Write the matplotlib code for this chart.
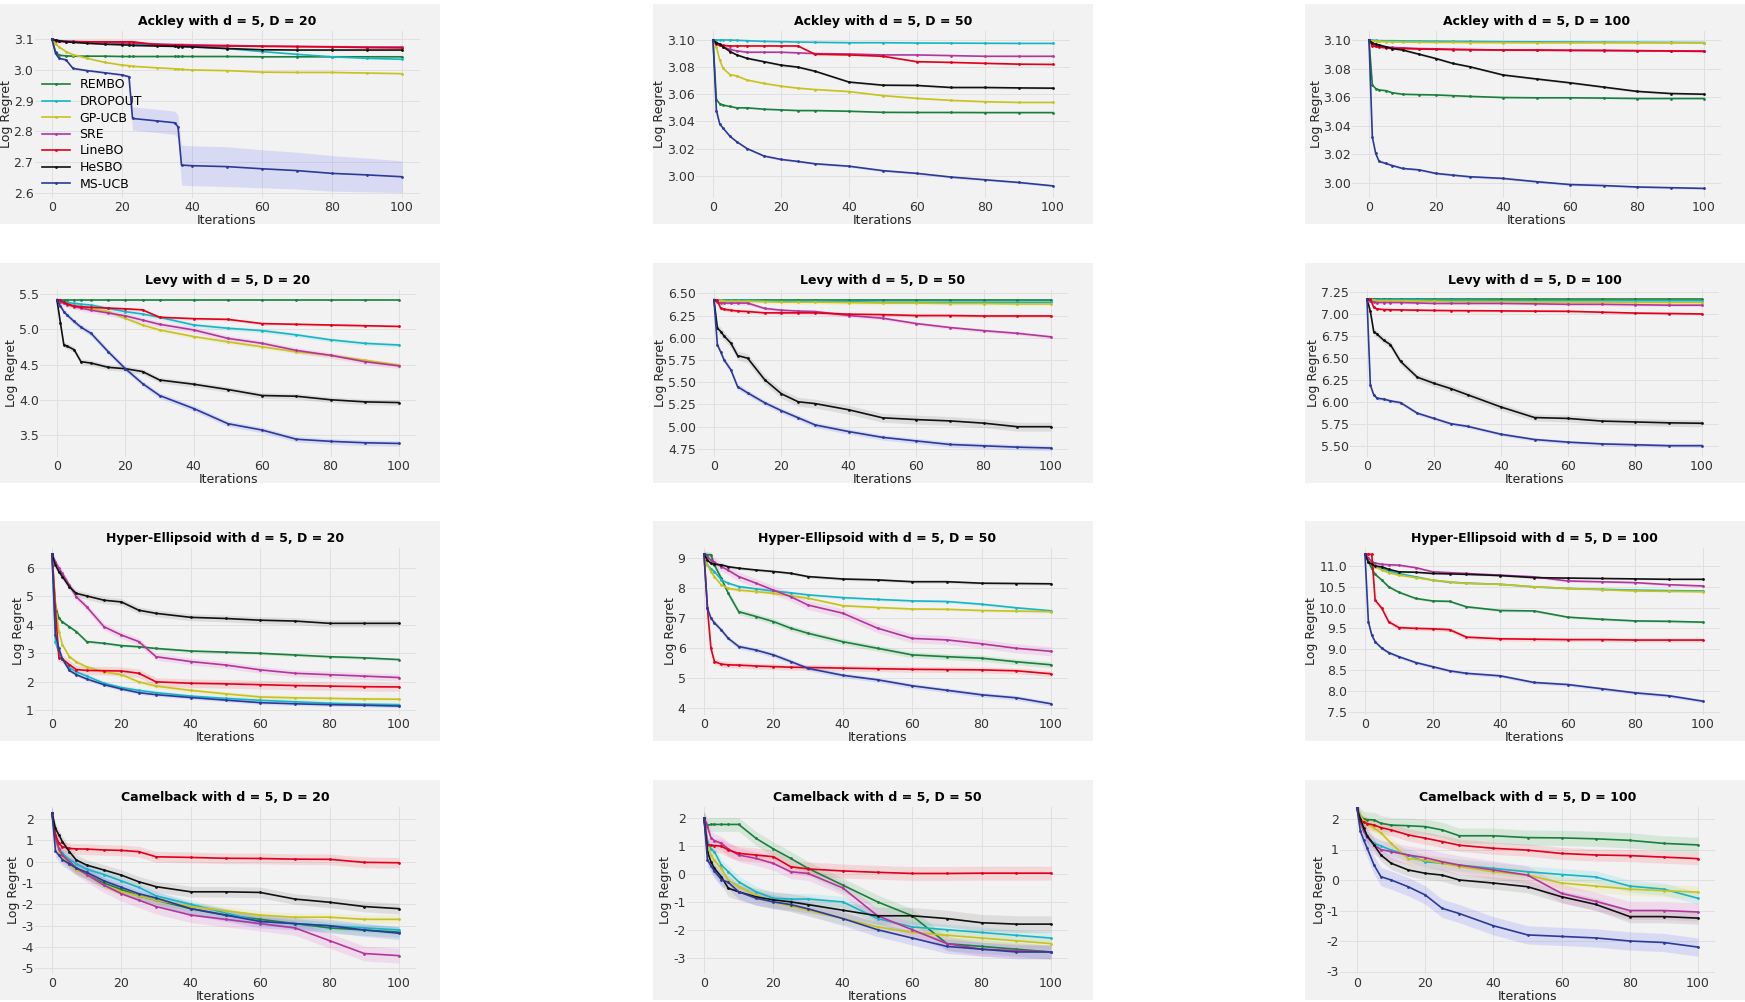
import matplotlib
matplotlib.use("Agg")
import matplotlib.pyplot as plt
import numpy as np
from matplotlib.patches import Rectangle

methods = ["REMBO", "DROPOUT", "GP-UCB", "SRE", "LineBO", "HeSBO", "MS-UCB"]
colors = ["#1a7f3c", "#17b5c4", "#c8c21e", "#b3359c", "#e0001b", "#111111", "#2b3a97"]
fills = ["#1a9f3c", "#17c5d4", "#d8d21e", "#e040c0", "#ff2030", "#555555", "#3040ff"]

iters = [0, 1, 2, 3, 5, 7, 10, 15, 20, 25, 30, 40, 50, 60, 70, 80, 90, 100]
iters_ackley_20 = [0, 1, 2, 4, 6, 10, 15, 20, 22, 23, 30, 35, 36, 37, 40, 50, 60, 70, 80, 90, 100]

# ---- Ackley ----
ackley_20 = [
    [3.100, 3.060, 3.048, 3.046, 3.045, 3.045, 3.045, 3.044, 3.044, 3.044, 3.044, 3.044, 3.044, 3.044, 3.044, 3.044, 3.043, 3.043, 3.043, 3.043, 3.043],
    [3.100, 3.098, 3.096, 3.094, 3.093, 3.090, 3.089, 3.087, 3.086, 3.085, 3.080, 3.078, 3.078, 3.077, 3.076, 3.070, 3.060, 3.051, 3.043, 3.038, 3.035],
    [3.100, 3.085, 3.075, 3.060, 3.050, 3.038, 3.025, 3.016, 3.014, 3.012, 3.007, 3.004, 3.003, 3.002, 3.000, 2.998, 2.993, 2.992, 2.992, 2.990, 2.988],
    [3.100, 3.097, 3.095, 3.094, 3.093, 3.092, 3.090, 3.088, 3.087, 3.087, 3.085, 3.083, 3.083, 3.083, 3.082, 3.080, 3.078, 3.077, 3.076, 3.075, 3.075],
    [3.100, 3.095, 3.093, 3.092, 3.092, 3.092, 3.092, 3.092, 3.092, 3.092, 3.082, 3.080, 3.080, 3.080, 3.079, 3.078, 3.077, 3.076, 3.075, 3.073, 3.072],
    [3.100, 3.097, 3.095, 3.092, 3.090, 3.087, 3.084, 3.082, 3.081, 3.080, 3.078, 3.077, 3.076, 3.076, 3.075, 3.070, 3.066, 3.065, 3.065, 3.065, 3.065],
    [3.100, 3.054, 3.038, 3.033, 3.005, 2.998, 2.991, 2.984, 2.978, 2.842, 2.834, 2.828, 2.815, 2.690, 2.688, 2.685, 2.678, 2.672, 2.663, 2.658, 2.652],
]
ackley_20_sd = [0.002, 0.002, 0.002, 0.002, 0.002, 0.002,
                [0.0, 0.003, 0.003, 0.003, 0.003, 0.003, 0.003, 0.004, 0.004, 0.038, 0.038, 0.038, 0.038,
                 0.065, 0.065, 0.065, 0.062, 0.060, 0.058, 0.055, 0.052]]
ackley_20_ticks = [2.6, 2.7, 2.8, 2.9, 3.0, 3.1]

ackley_50 = [
    [3.100, 3.056, 3.053, 3.052, 3.051, 3.050, 3.050, 3.049, 3.0485, 3.048, 3.048, 3.0475, 3.0467, 3.0466, 3.0466, 3.0465, 3.0465, 3.0465],
    [3.100, 3.100, 3.100, 3.100, 3.100, 3.0998, 3.0995, 3.099, 3.0988, 3.0985, 3.0983, 3.098, 3.098, 3.0978, 3.0977, 3.0976, 3.0975, 3.0975],
    [3.100, 3.095, 3.085, 3.079, 3.0745, 3.0735, 3.0705, 3.068, 3.066, 3.0645, 3.0635, 3.062, 3.059, 3.057, 3.0555, 3.0545, 3.054, 3.054],
    [3.100, 3.098, 3.096, 3.095, 3.093, 3.092, 3.091, 3.091, 3.091, 3.0905, 3.090, 3.0897, 3.089, 3.089, 3.0885, 3.088, 3.088, 3.088],
    [3.100, 3.097, 3.096, 3.096, 3.0956, 3.0956, 3.0956, 3.0956, 3.0956, 3.0956, 3.0895, 3.089, 3.088, 3.084, 3.0835, 3.0828, 3.0822, 3.082],
    [3.100, 3.098, 3.097, 3.095, 3.0915, 3.089, 3.0865, 3.084, 3.0815, 3.080, 3.077, 3.069, 3.0667, 3.0665, 3.065, 3.065, 3.0647, 3.0645],
    [3.100, 3.048, 3.038, 3.035, 3.029, 3.025, 3.020, 3.0145, 3.012, 3.0105, 3.0088, 3.007, 3.0037, 3.0017, 2.999, 2.997, 2.995, 2.9925],
]
ackley_50_sd = [0.0005, 0.0004, 0.0006, 0.0005, 0.0006, 0.0008, 0.0008]
ackley_50_ticks = [3.00, 3.02, 3.04, 3.06, 3.08, 3.10]

ackley_100 = [
    [3.100, 3.0685, 3.066, 3.065, 3.0645, 3.063, 3.062, 3.0617, 3.0615, 3.061, 3.0605, 3.0597, 3.0595, 3.0595, 3.0593, 3.059, 3.059, 3.059],
    [3.100, 3.0998, 3.0997, 3.0996, 3.0995, 3.0995, 3.0994, 3.0993, 3.0992, 3.0991, 3.099, 3.0988, 3.0987, 3.0986, 3.0985, 3.0984, 3.0983, 3.0982],
    [3.100, 3.0995, 3.099, 3.099, 3.0988, 3.0987, 3.0985, 3.0984, 3.0983, 3.0983, 3.0982, 3.0981, 3.098, 3.098, 3.098, 3.098, 3.098, 3.098],
    [3.100, 3.097, 3.096, 3.0955, 3.095, 3.0948, 3.0945, 3.094, 3.0938, 3.0935, 3.0933, 3.093, 3.0928, 3.0927, 3.0926, 3.0925, 3.0924, 3.0923],
    [3.100, 3.096, 3.0955, 3.095, 3.0945, 3.094, 3.094, 3.0937, 3.0935, 3.0933, 3.0932, 3.093, 3.093, 3.0928, 3.0927, 3.0925, 3.0923, 3.092],
    [3.100, 3.098, 3.097, 3.0965, 3.0953, 3.094, 3.093, 3.090, 3.087, 3.0836, 3.0813, 3.0755, 3.0727, 3.070, 3.067, 3.064, 3.0625, 3.062],
    [3.100, 3.032, 3.0205, 3.015, 3.0135, 3.012, 3.010, 3.009, 3.0065, 3.0053, 3.0042, 3.003, 3.0007, 2.9987, 2.998, 2.997, 2.9965, 2.996],
]
ackley_100_sd = [0.0005, 0.0003, 0.0003, 0.0005, 0.0006, 0.0008, 0.0008]
ackley_100_ticks = [3.00, 3.02, 3.04, 3.06, 3.08, 3.10]

# ---- Levy ----
levy_20 = [
    [5.41] * 18,
    [5.41, 5.40, 5.39, 5.38, 5.367, 5.355, 5.343, 5.296, 5.25, 5.216, 5.17, 5.06, 5.014, 4.98, 4.92, 4.85, 4.80, 4.776],
    [5.41, 5.39, 5.37, 5.355, 5.33, 5.31, 5.296, 5.25, 5.154, 5.06, 4.99, 4.896, 4.82, 4.75, 4.68, 4.63, 4.56, 4.49],
    [5.41, 5.39, 5.37, 5.35, 5.32, 5.30, 5.27, 5.23, 5.19, 5.13, 5.07, 4.99, 4.87, 4.80, 4.70, 4.63, 4.54, 4.48],
    [5.42, 5.41, 5.38, 5.36, 5.33, 5.32, 5.31, 5.30, 5.29, 5.275, 5.17, 5.15, 5.14, 5.08, 5.07, 5.06, 5.05, 5.04],
    [5.41, 5.09, 4.78, 4.76, 4.71, 4.54, 4.52, 4.46, 4.44, 4.40, 4.28, 4.22, 4.145, 4.06, 4.05, 4.00, 3.97, 3.96],
    [5.41, 5.33, 5.25, 5.20, 5.11, 5.03, 4.94, 4.68, 4.44, 4.23, 4.06, 3.875, 3.66, 3.57, 3.44, 3.41, 3.39, 3.38],
]
levy_20_sd = [0.01, 0.03, 0.03, 0.04, 0.02, 0.04, 0.04]
levy_20_ticks = [3.5, 4.0, 4.5, 5.0, 5.5]

levy_50 = [
    [6.425] * 18,
    [6.42, 6.42, 6.42, 6.42, 6.42, 6.42, 6.42, 6.415, 6.41, 6.41, 6.41, 6.405, 6.40, 6.40, 6.40, 6.40, 6.40, 6.40],
    [6.42, 6.42, 6.42, 6.41, 6.41, 6.41, 6.41, 6.405, 6.40, 6.40, 6.40, 6.395, 6.39, 6.39, 6.385, 6.385, 6.38, 6.38],
    [6.42, 6.40, 6.39, 6.39, 6.39, 6.39, 6.39, 6.33, 6.31, 6.30, 6.295, 6.25, 6.22, 6.16, 6.115, 6.08, 6.05, 6.01],
    [6.43, 6.42, 6.33, 6.32, 6.31, 6.30, 6.295, 6.28, 6.28, 6.28, 6.28, 6.265, 6.26, 6.25, 6.25, 6.245, 6.245, 6.245],
    [6.42, 6.11, 6.07, 6.02, 5.94, 5.80, 5.77, 5.53, 5.37, 5.28, 5.26, 5.19, 5.10, 5.08, 5.065, 5.04, 5.00, 5.00],
    [6.42, 5.92, 5.84, 5.75, 5.64, 5.45, 5.38, 5.27, 5.18, 5.10, 5.02, 4.945, 4.88, 4.84, 4.80, 4.785, 4.77, 4.76],
]
levy_50_sd = [0.01, 0.01, 0.02, 0.02, 0.02, 0.05, 0.03]
levy_50_ticks = [4.75, 5.00, 5.25, 5.50, 5.75, 6.00, 6.25, 6.50]

levy_100 = [
    [7.165] * 18,
    [7.165, 7.165, 7.16, 7.16, 7.16, 7.16, 7.16, 7.16, 7.155, 7.155, 7.155, 7.15, 7.15, 7.15, 7.15, 7.15, 7.15, 7.15],
    [7.165, 7.16, 7.155, 7.15, 7.15, 7.15, 7.15, 7.145, 7.145, 7.14, 7.14, 7.14, 7.135, 7.135, 7.135, 7.13, 7.13, 7.13],
    [7.165, 7.15, 7.135, 7.13, 7.13, 7.13, 7.13, 7.125, 7.12, 7.12, 7.12, 7.12, 7.115, 7.11, 7.11, 7.105, 7.10, 7.10],
    [7.165, 7.17, 7.076, 7.057, 7.05, 7.048, 7.046, 7.043, 7.04, 7.038, 7.037, 7.035, 7.032, 7.03, 7.02, 7.01, 7.005, 7.00],
    [7.165, 7.03, 6.80, 6.77, 6.70, 6.65, 6.46, 6.28, 6.21, 6.15, 6.08, 5.94, 5.82, 5.81, 5.78, 5.77, 5.76, 5.755],
    [7.165, 6.19, 6.08, 6.04, 6.03, 6.01, 5.99, 5.87, 5.81, 5.75, 5.72, 5.63, 5.57, 5.54, 5.52, 5.51, 5.50, 5.50],
]
levy_100_sd = [0.01, 0.01, 0.01, 0.015, 0.015, 0.04, 0.02]
levy_100_ticks = [5.50, 5.75, 6.00, 6.25, 6.50, 6.75, 7.00, 7.25]

# ---- Hyper-Ellipsoid ----
hyper_20 = [
    [6.47, 4.68, 4.22, 4.10, 3.93, 3.76, 3.41, 3.35, 3.27, 3.23, 3.17, 3.08, 3.04, 3.00, 2.94, 2.88, 2.84, 2.78],
    [6.47, 3.40, 3.00, 2.80, 2.50, 2.35, 2.20, 1.95, 1.80, 1.70, 1.62, 1.50, 1.42, 1.35, 1.30, 1.25, 1.22, 1.20],
    [6.47, 4.70, 3.76, 3.30, 2.88, 2.70, 2.52, 2.35, 2.25, 2.00, 1.85, 1.70, 1.58, 1.47, 1.44, 1.42, 1.40, 1.39],
    [6.47, 6.20, 5.98, 5.80, 5.39, 4.98, 4.63, 3.93, 3.64, 3.41, 2.88, 2.71, 2.59, 2.42, 2.30, 2.25, 2.20, 2.15],
    [6.47, 4.50, 2.85, 2.80, 2.60, 2.43, 2.40, 2.39, 2.38, 2.30, 2.00, 1.95, 1.93, 1.90, 1.87, 1.85, 1.83, 1.82],
    [6.47, 6.09, 5.86, 5.69, 5.33, 5.10, 5.01, 4.86, 4.80, 4.51, 4.40, 4.26, 4.22, 4.16, 4.13, 4.05, 4.05, 4.05],
    [6.47, 3.65, 3.17, 2.80, 2.40, 2.25, 2.10, 1.90, 1.75, 1.62, 1.55, 1.45, 1.36, 1.27, 1.23, 1.20, 1.18, 1.15],
]
hyper_20_sd = [0.05, 0.08, 0.08, 0.12, 0.15, 0.12, 0.06]
hyper_20_ticks = [1, 2, 3, 4, 5, 6]

hyper_50 = [
    [9.13, 9.12, 9.12, 8.78, 8.33, 7.83, 7.22, 7.06, 6.89, 6.67, 6.50, 6.22, 6.00, 5.78, 5.72, 5.67, 5.55, 5.45],
    [9.13, 8.78, 8.65, 8.56, 8.28, 8.17, 8.06, 7.98, 7.91, 7.85, 7.78, 7.69, 7.63, 7.58, 7.56, 7.47, 7.35, 7.25],
    [9.13, 8.78, 8.55, 8.39, 8.11, 8.00, 7.94, 7.89, 7.83, 7.75, 7.67, 7.42, 7.36, 7.31, 7.30, 7.26, 7.24, 7.22],
    [9.13, 9.05, 8.94, 8.87, 8.72, 8.60, 8.39, 8.17, 7.94, 7.72, 7.44, 7.17, 6.67, 6.33, 6.28, 6.15, 6.00, 5.90],
    [9.13, 7.33, 6.00, 5.56, 5.47, 5.45, 5.44, 5.41, 5.39, 5.37, 5.36, 5.34, 5.32, 5.30, 5.29, 5.28, 5.25, 5.15],
    [9.13, 8.94, 8.83, 8.80, 8.78, 8.72, 8.67, 8.61, 8.56, 8.50, 8.39, 8.31, 8.28, 8.22, 8.22, 8.17, 8.16, 8.15],
    [9.13, 7.33, 7.00, 6.85, 6.61, 6.33, 6.06, 5.94, 5.78, 5.56, 5.33, 5.10, 4.95, 4.75, 4.60, 4.45, 4.35, 4.15],
]
hyper_50_sd = [0.10, 0.05, 0.05, 0.15, 0.10, 0.05, 0.08]
hyper_50_ticks = [4, 5, 6, 7, 8, 9]

hyper_100 = [
    [11.28, 11.10, 10.94, 10.80, 10.66, 10.50, 10.37, 10.22, 10.16, 10.15, 10.02, 9.93, 9.92, 9.77, 9.72, 9.68, 9.67, 9.65],
    [11.28, 11.15, 11.06, 11.00, 10.94, 10.88, 10.82, 10.74, 10.66, 10.61, 10.59, 10.56, 10.50, 10.46, 10.44, 10.42, 10.41, 10.40],
    [11.28, 11.15, 11.05, 10.98, 10.90, 10.84, 10.78, 10.72, 10.66, 10.62, 10.58, 10.56, 10.50, 10.46, 10.43, 10.40, 10.39, 10.38],
    [11.28, 11.20, 11.10, 11.07, 11.04, 11.03, 11.02, 10.96, 10.86, 10.84, 10.82, 10.78, 10.74, 10.64, 10.62, 10.60, 10.55, 10.52],
    [11.28, 11.28, 11.28, 10.18, 9.98, 9.66, 9.52, 9.50, 9.49, 9.47, 9.29, 9.25, 9.24, 9.23, 9.23, 9.22, 9.22, 9.22],
    [11.28, 11.10, 11.04, 11.00, 10.98, 10.92, 10.86, 10.85, 10.82, 10.81, 10.80, 10.77, 10.72, 10.71, 10.70, 10.69, 10.68, 10.68],
    [11.28, 9.66, 9.34, 9.18, 9.02, 8.92, 8.82, 8.68, 8.58, 8.48, 8.42, 8.36, 8.20, 8.15, 8.05, 7.95, 7.88, 7.75],
]
hyper_100_sd = [0.03, 0.02, 0.02, 0.03, 0.05, 0.02, 0.04]
hyper_100_ticks = [7.5, 8.0, 8.5, 9.0, 9.5, 10.0, 10.5, 11.0]

# ---- Camelback ----
camel_20 = [
    [2.27, 1.20, 0.60, 0.30, 0.00, -0.30, -0.60, -1.00, -1.30, -1.60, -1.80, -2.20, -2.50, -2.70, -2.90, -3.10, -3.20, -3.30],
    [2.27, 1.00, 0.60, 0.40, 0.10, -0.10, -0.35, -0.60, -0.90, -1.20, -1.60, -2.00, -2.40, -2.80, -2.90, -3.00, -3.10, -3.20],
    [2.27, 1.00, 0.50, 0.20, -0.10, -0.40, -0.60, -1.10, -1.40, -1.60, -1.80, -2.10, -2.30, -2.50, -2.60, -2.60, -2.70, -2.70],
    [2.27, 1.10, 0.60, 0.30, 0.00, -0.30, -0.60, -1.10, -1.50, -1.80, -2.10, -2.50, -2.70, -2.90, -3.10, -3.70, -4.30, -4.40],
    [2.27, 1.25, 0.86, 0.70, 0.62, 0.60, 0.59, 0.55, 0.53, 0.47, 0.23, 0.20, 0.16, 0.15, 0.12, 0.11, -0.03, -0.05],
    [2.27, 1.56, 1.25, 0.94, 0.47, 0.08, -0.16, -0.39, -0.63, -0.94, -1.17, -1.41, -1.41, -1.44, -1.75, -1.90, -2.10, -2.20],
    [2.27, 0.50, 0.30, 0.10, -0.10, -0.30, -0.50, -0.90, -1.20, -1.50, -1.70, -2.20, -2.50, -2.80, -2.90, -3.00, -3.20, -3.35],
]
camel_20_sd = [0.25, 0.20, 0.20, 0.35, 0.25, 0.25, 0.30]
camel_20_ticks = [-5, -4, -3, -2, -1, 0, 1, 2]

camel_50 = [
    [2.00, 1.75, 1.78, 1.78, 1.78, 1.78, 1.78, 1.28, 0.90, 0.56, 0.20, -0.40, -1.00, -1.50, -2.50, -2.60, -2.70, -2.80],
    [2.00, 1.20, 0.90, 0.80, 0.32, 0.08, -0.28, -0.64, -0.87, -0.90, -0.90, -1.00, -1.60, -1.90, -2.00, -2.10, -2.20, -2.30],
    [2.00, 1.00, 0.68, 0.50, 0.20, -0.22, -0.46, -0.76, -1.00, -1.15, -1.30, -1.60, -1.90, -2.10, -2.20, -2.30, -2.40, -2.50],
    [2.00, 1.70, 1.30, 1.20, 1.10, 0.90, 0.68, 0.56, 0.38, 0.08, 0.02, -0.50, -1.50, -2.00, -2.50, -2.70, -2.75, -2.80],
    [2.00, 1.05, 1.03, 1.02, 1.00, 0.86, 0.74, 0.68, 0.62, 0.26, 0.18, 0.11, 0.06, 0.02, 0.02, 0.03, 0.03, 0.03],
    [2.00, 0.80, 0.44, 0.20, -0.10, -0.51, -0.64, -0.82, -0.93, -1.00, -1.10, -1.30, -1.50, -1.50, -1.60, -1.75, -1.80, -1.80],
    [2.00, 0.50, 0.30, 0.10, -0.20, -0.30, -0.64, -0.87, -1.00, -1.10, -1.25, -1.60, -2.00, -2.30, -2.60, -2.70, -2.80, -2.80],
]
camel_50_sd = [0.25, 0.20, 0.20, 0.25, 0.25, 0.30, 0.25]
camel_50_ticks = [-3, -2, -1, 0, 1, 2]

camel_100 = [
    [2.35, 2.10, 2.00, 1.98, 1.97, 1.86, 1.80, 1.78, 1.75, 1.64, 1.45, 1.45, 1.39, 1.38, 1.35, 1.30, 1.20, 1.15],
    [2.35, 1.90, 1.60, 1.40, 1.20, 1.12, 0.98, 0.82, 0.60, 0.55, 0.49, 0.38, 0.27, 0.18, 0.10, -0.20, -0.30, -0.60],
    [2.35, 2.10, 1.95, 1.85, 1.70, 1.55, 1.20, 0.70, 0.65, 0.55, 0.44, 0.27, 0.16, -0.10, -0.20, -0.30, -0.35, -0.40],
    [2.35, 1.90, 1.60, 1.40, 1.15, 1.00, 0.93, 0.82, 0.73, 0.60, 0.49, 0.33, 0.16, -0.44, -0.70, -1.00, -1.00, -1.05],
    [2.35, 1.95, 1.90, 1.85, 1.80, 1.72, 1.64, 1.48, 1.37, 1.26, 1.14, 1.04, 0.98, 0.87, 0.82, 0.80, 0.75, 0.70],
    [2.35, 2.00, 1.70, 1.45, 1.15, 0.82, 0.55, 0.33, 0.22, 0.16, 0.00, -0.10, -0.22, -0.55, -0.80, -1.20, -1.20, -1.25],
    [2.35, 1.60, 1.30, 1.04, 0.49, 0.11, 0.00, -0.22, -0.49, -0.93, -1.10, -1.50, -1.80, -1.85, -1.90, -2.00, -2.05, -2.20],
]
camel_100_sd = [0.25, 0.20, 0.20, 0.30, 0.20, 0.20, 0.30]
camel_100_ticks = [-3, -2, -1, 0, 1, 2]

panels = [
    ("Ackley", 20, iters_ackley_20, ackley_20, ackley_20_sd, ackley_20_ticks, "%.1f"),
    ("Ackley", 50, iters, ackley_50, ackley_50_sd, ackley_50_ticks, "%.2f"),
    ("Ackley", 100, iters, ackley_100, ackley_100_sd, ackley_100_ticks, "%.2f"),
    ("Levy", 20, iters, levy_20, levy_20_sd, levy_20_ticks, "%.1f"),
    ("Levy", 50, iters, levy_50, levy_50_sd, levy_50_ticks, "%.2f"),
    ("Levy", 100, iters, levy_100, levy_100_sd, levy_100_ticks, "%.2f"),
    ("Hyper-Ellipsoid", 20, iters, hyper_20, hyper_20_sd, hyper_20_ticks, "%d"),
    ("Hyper-Ellipsoid", 50, iters, hyper_50, hyper_50_sd, hyper_50_ticks, "%d"),
    ("Hyper-Ellipsoid", 100, iters, hyper_100, hyper_100_sd, hyper_100_ticks, "%.1f"),
    ("Camelback", 20, iters, camel_20, camel_20_sd, camel_20_ticks, "%d"),
    ("Camelback", 50, iters, camel_50, camel_50_sd, camel_50_ticks, "%d"),
    ("Camelback", 100, iters, camel_100, camel_100_sd, camel_100_ticks, "%d"),
]

# layout: pixel column where iteration 0 / 100 sit, and pixel rows of two y ticks
W, H = 1745, 1002
col_x = [0, 653, 1305]
row_y = [4, 263, 521, 780]
pw, ph = 440, 220
x_pix = [(52, 402), (713, 1053), (1369, 1704),
         (57, 399), (714, 1051), (1367, 1702),
         (52, 399), (704, 1051), (1365, 1703),
         (52, 399), (704, 1051), (1357, 1698)]
y_pix = [((3.1, 39.3), (2.6, 192.7)), ((3.10, 40.0), (3.00, 175.7)), ((3.10, 40.0), (3.00, 182.7)),
         ((5.5, 294.0), (3.5, 435.0)), ((6.50, 293.3), (5.00, 426.7)), ((7.25, 292.0), (5.75, 423.7)),
         ((6, 567.7), (3, 653.3)), ((9, 558.3), (6, 648.3)), ((11.0, 566.0), (8.5, 670.0)),
         ((2, 819.0), (0, 861.7)), ((2, 818.3), (0, 874.0)), ((2, 819.0), (0, 880.0))]
bg = "#f2f2f2"

fig = plt.figure(figsize=(W / 100, H / 100), dpi=100, facecolor="white")

for k, (name, D, x, series, sds, yt, fmt) in enumerate(panels):
    px = col_x[k % 3]
    py = row_y[k // 3]
    fig.patches.append(Rectangle((px / W, 1 - (py + ph) / H), pw / W, ph / H,
                                 transform=fig.transFigure, facecolor=bg,
                                 edgecolor="none", zorder=-10))
    x0, x100 = x_pix[k]
    ppu = (x100 - x0) / 100.0
    left, right = x0 - 5 * ppu, x100 + 5 * ppu
    top, bottom = py + 27, py + 194
    (v1, p1), (v2, p2) = y_pix[k]
    scale = (p2 - p1) / (v1 - v2)
    ytop = v1 + (p1 - top) / scale
    ybot = v1 - (bottom - p1) / scale

    ax = fig.add_axes([left / W, 1 - bottom / H, (right - left) / W, (bottom - top) / H])
    ax.set_facecolor(bg)
    xs = np.array(x, float)
    for i in range(len(methods)):
        y = np.array(series[i], float)
        s = np.broadcast_to(np.asarray(sds[i], float), y.shape)
        ax.fill_between(xs, y - s, y + s, color=fills[i], alpha=0.13, lw=0)
        ax.plot(xs, y, color=colors[i], lw=1.2, marker=".", ms=2, label=methods[i])
    ax.set_title("%s with d = 5, D = %d" % (name, D), fontsize=9, fontweight="bold", pad=4)
    ax.set_xticks([0, 20, 40, 60, 80, 100])
    ax.set_yticks(yt)
    ax.set_yticklabels([fmt % t for t in yt])
    ax.set_xlim(-5, 105)
    ax.set_ylim(ybot, ytop)
    ax.tick_params(length=0, labelsize=9, colors="#333333")
    ax.tick_params(axis="y", pad=0.8)
    ax.tick_params(axis="x", pad=2)
    ax.grid(True, color="#e0e0e0", lw=0.7)
    ax.set_axisbelow(True)
    for sp in ax.spines.values():
        sp.set_visible(False)
    ax.set_xlabel("Iterations", fontsize=9, labelpad=0, color="#222222")
    ax.set_ylabel("Log Regret", fontsize=9, labelpad=0.5, color="#222222")
    if k == 0:
        ax.legend(loc="lower left", frameon=False, fontsize=9, labelspacing=0.28,
                  borderaxespad=0.3, handlelength=2.2, borderpad=0.3)

fig.savefig("out.png", dpi=100, facecolor="white")
